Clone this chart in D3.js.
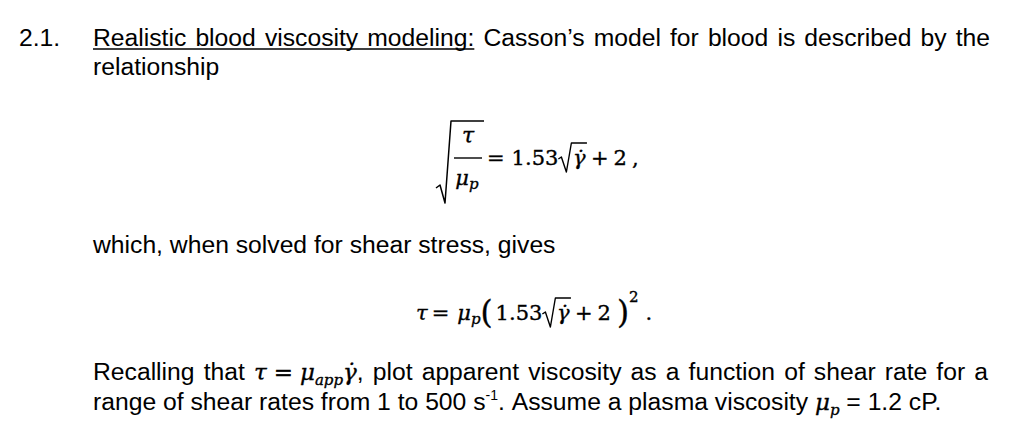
<!DOCTYPE html>
<html><head><meta charset="utf-8">
<script src="https://cdn.jsdelivr.net/npm/d3@7"></script>
<style>html,body{margin:0;padding:0;background:#fff}svg{display:block}</style>
</head><body>
<svg id="c" width="1024" height="442"></svg>
<script>
// ---- content (text pieces) ----
const sectionNumber = ["2.1."];
const headingTitle = ["Realistic blood viscosity modeling:"];
const headingRest = [" Casson’s model for blood is described by the"];
const line2Text = ["relationship"];
const middleText = ["which, when solved for shear stress, gives"];
const recallText = ["Recalling that ", ", plot apparent viscosity as a function of shear rate for a"];
const rangeText = ["range of shear rates from 1 to 500 s", "-1", ". Assume a plasma viscosity ", " = 1.2 cP."];
const eqNumbers = ["1.53", "2"];
const eqSymbols = ["τ", "μ", "p", "γ\u0307", "app"];

const SANS = "'Liberation Sans', Arial, Helvetica, sans-serif";
const SERIF = "'DejaVu Serif', Cambria, serif";
const BODY = 24.7, MATH = 23, DISP = 21, SUBS = 15;

const svg = d3.select('#c');
const g = svg.append('g');

function styleTok(sel, tk) {
  sel.attr('font-family', tk.f === 'sans' ? SANS : SERIF)
     .attr('font-style', tk.f === 'mi' ? 'italic' : 'normal')
     .attr('font-size', tk.s)
     .attr('fill', '#000');
  if (tk.f !== 'sans') sel.attr('stroke', '#000').attr('stroke-width', 0.35);
}
function textW(tk, str) {
  const t = g.append('text'); styleTok(t, tk); t.text(str);
  const w = t.node().getComputedTextLength(); t.remove(); return w;
}
function spaceWidth(tk) { return textW(tk, 'n n') - textW(tk, 'nn'); }

// flow layout of tokens along a baseline
function flow(x0, y, segs, right) {
  const toks = [];
  segs.forEach(s => {
    const base = Object.assign({f: 'sans', s: BODY, dy: 0, pl: 0, pr: 0}, s);
    if (base.f === 'sans' && !base.sqrt) {
      base.t.split(/( )/).forEach(p => { if (p !== '') toks.push(Object.assign({}, base, {t: p, sp: p === ' '})); });
    } else toks.push(base);
  });
  toks.forEach(tk => {
    if (tk.sp) { tk.w = spaceWidth(tk); return; }
    if (tk.sqrt) {
      tk.iw = textW(tk, tk.sqrt);
      tk.w = tk.iw + 15;
      return;
    }
    tk.w = textW(tk, tk.t);
  });
  const total = d3.sum(toks, d => d.w + d.pl + d.pr);
  const nsp = toks.filter(d => d.sp).length;
  const extra = (right && nsp) ? (right - x0 - total) / nsp : 0;
  let x = x0; let u0 = null, u1 = null;
  toks.forEach(tk => {
    if (tk.sp) { x += tk.w + extra; return; }
    x += tk.pl;
    if (tk.sqrt) {
      const h = tk.rh || 22;
      const path = d3.path();
      path.moveTo(x, y - 6); path.lineTo(x + 3, y - 8);
      path.lineTo(x + 8, y + 7); path.lineTo(x + 13, y - h);
      path.lineTo(x + 15 + tk.iw + 1, y - h);
      g.append('path').attr('d', path.toString()).attr('fill', 'none')
        .attr('stroke', '#000').attr('stroke-width', 1.4).attr('stroke-linejoin', 'round');
      const t = g.append('text').attr('x', x + 14.5).attr('y', y + tk.dy); styleTok(t, tk); t.text(tk.sqrt);
    } else {
      const t = g.append('text').attr('x', x).attr('y', y + tk.dy); styleTok(t, tk); t.text(tk.t);
    }
    if (tk.u) { if (u0 === null) u0 = x; u1 = x + tk.w; }
    x += tk.w + tk.pr;
  });
  if (u0 !== null) {
    g.append('line').attr('x1', u0).attr('x2', u1).attr('y1', y + 3).attr('y2', y + 3)
      .attr('stroke', '#000').attr('stroke-width', 1.6);
  }
  return x;
}

function draw() {
  // heading
  flow(19, 46, [{t: sectionNumber[0]}]);
  flow(93, 46, [{t: headingTitle[0], u: true}, {t: headingRest[0]}], 990);
  flow(93, 75, [{t: line2Text[0]}]);

  // equation 1: sqrt(tau/mu_p) = 1.53 sqrt(gammadot) + 2 ,
  const cx = 468;
  const tt = g.append('text').attr('x', cx).attr('y', 143).attr('text-anchor', 'middle');
  styleTok(tt, {f: 'mi', s: DISP + 1}); tt.text(eqSymbols[0]);
  g.append('line').attr('x1', 454).attr('x2', 482).attr('y1', 158).attr('y2', 158)
    .attr('stroke', '#000').attr('stroke-width', 1.4);
  const wm = textW({f: 'mi', s: DISP}, eqSymbols[1]), wp = textW({f: 'mi', s: SUBS}, eqSymbols[2]);
  flow(cx - (wm + wp) / 2 - 1, 185, [{f: 'mi', s: DISP, t: eqSymbols[1]}, {f: 'mi', s: SUBS, t: eqSymbols[2], dy: 4}]);
  const rad = d3.path();
  rad.moveTo(436, 188); rad.lineTo(440, 185); rad.lineTo(445, 203); rad.lineTo(451, 121); rad.lineTo(484, 121);
  g.append('path').attr('d', rad.toString()).attr('fill', 'none').attr('stroke', '#000')
    .attr('stroke-width', 1.5).attr('stroke-linejoin', 'round');
  flow(487, 165, [
    {f: 'mr', s: DISP, t: '=', pl: 0, pr: 7},
    {f: 'mr', s: DISP, t: eqNumbers[0]},
    {f: 'mi', s: DISP, sqrt: eqSymbols[3], rh: 22},
    {f: 'mr', s: DISP, t: '+', pl: 5, pr: 5},
    {f: 'mr', s: DISP, t: eqNumbers[1], pr: 5},
    {f: 'mr', s: DISP, t: ','}
  ]);

  flow(93, 253, [{t: middleText[0]}]);

  // equation 2: tau = mu_p (1.53 sqrt(gammadot) + 2)^2 .
  flow(416, 320, [
    {f: 'mi', s: DISP, t: eqSymbols[0]},
    {f: 'mr', s: DISP, t: '=', pl: 4, pr: 8},
    {f: 'mi', s: DISP, t: eqSymbols[1]},
    {f: 'mi', s: SUBS, t: eqSymbols[2], dy: 4},
    {f: 'mr', s: 31, t: '(', dy: 3, pr: 3},
    {f: 'mr', s: DISP, t: eqNumbers[0]},
    {f: 'mi', s: DISP, sqrt: eqSymbols[3], rh: 22},
    {f: 'mr', s: DISP, t: '+', pl: 5, pr: 5},
    {f: 'mr', s: DISP, t: eqNumbers[1], pr: 6},
    {f: 'mr', s: 31, t: ')', dy: 3},
    {f: 'mr', s: SUBS, t: eqNumbers[1], dy: -18},
    {f: 'mr', s: DISP, t: '.', pl: 7}
  ]);

  // final paragraph
  flow(93, 380, [
    {t: recallText[0]},
    {f: 'mi', s: MATH, t: eqSymbols[0]},
    {f: 'mr', s: MATH, t: '=', pl: 7, pr: 7},
    {f: 'mi', s: MATH, t: eqSymbols[1]},
    {f: 'mi', s: SUBS, t: eqSymbols[4], dy: 5},
    {f: 'mi', s: MATH, t: eqSymbols[3]},
    {t: recallText[1]}
  ], 988);
  flow(93, 410, [
    {t: rangeText[0]},
    {t: rangeText[1], s: 14, dy: -10},
    {t: rangeText[2]},
    {f: 'mi', s: MATH, t: eqSymbols[1]},
    {f: 'mi', s: SUBS, t: eqSymbols[2], dy: 5},
    {t: rangeText[3]}
  ]);
}
if (document.fonts && document.fonts.ready) document.fonts.ready.then(draw); else draw();
</script>
</body></html>
